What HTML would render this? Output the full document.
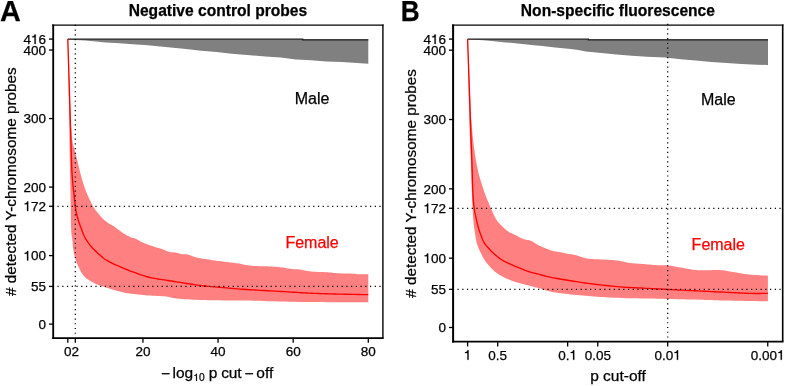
<!DOCTYPE html>
<html><head><meta charset="utf-8"><style>
html,body{margin:0;padding:0;background:#fff;width:785px;height:386px;overflow:hidden}
svg{display:block;will-change:transform}
text{font-family:"Liberation Sans",sans-serif;fill:#000;stroke:#000;stroke-width:0.25px}
text.red{fill:#ff0000;stroke:#ff0000}
</style></head><body>
<svg width="785" height="386" viewBox="0 0 785 386">
<rect width="785" height="386" fill="#fff"/>
<polygon points="67.80,39.00 68.10,39.40 75.20,39.90 85.40,40.60 95.60,41.40 105.80,42.40 116.00,43.00 126.20,43.70 136.40,44.40 145.00,45.00 155.30,46.10 170.60,47.60 185.90,48.90 201.20,50.70 216.50,51.90 231.70,53.80 247.00,55.00 265.30,56.50 280.60,57.50 295.90,59.50 311.20,60.30 326.50,61.50 341.70,62.10 357.00,63.00 368.30,63.70 368.30,39.20 67.80,39.20" fill="#808080"/>
<polygon points="67.80,39.00 67.92,42.17 68.07,46.39 68.25,51.42 68.46,57.00 68.67,62.90 68.89,68.86 69.10,74.64 69.30,80.00 69.49,85.18 69.68,90.54 69.87,95.95 70.06,101.31 70.24,106.51 70.43,111.43 70.62,115.96 70.80,120.00 70.97,123.52 71.13,126.62 71.28,129.36 71.42,131.82 71.58,134.05 71.76,136.11 71.96,138.07 72.20,140.00 72.48,141.80 72.78,143.36 73.12,144.75 73.47,146.02 73.83,147.21 74.19,148.39 74.55,149.60 74.90,150.90 75.23,152.24 75.55,153.54 75.87,154.83 76.19,156.13 76.52,157.45 76.86,158.82 77.22,160.27 77.60,161.80 78.00,163.44 78.41,165.17 78.84,166.97 79.28,168.83 79.74,170.70 80.21,172.59 80.70,174.46 81.20,176.30 81.73,178.14 82.28,180.01 82.84,181.90 83.42,183.79 84.02,185.64 84.61,187.44 85.21,189.17 85.80,190.80 86.40,192.35 87.02,193.85 87.65,195.28 88.28,196.66 88.90,197.98 89.50,199.22 90.07,200.40 90.60,201.50 91.08,202.51 91.52,203.41 91.92,204.24 92.31,205.00 92.68,205.72 93.07,206.41 93.47,207.10 93.90,207.80 94.35,208.49 94.80,209.14 95.27,209.77 95.74,210.38 96.22,210.98 96.73,211.60 97.25,212.23 97.80,212.90 98.37,213.60 98.96,214.34 99.56,215.09 100.19,215.85 100.83,216.61 101.50,217.36 102.19,218.10 102.90,218.80 103.66,219.50 104.49,220.20 105.35,220.91 106.23,221.59 107.09,222.25 107.93,222.86 108.70,223.42 109.40,223.90 110.00,224.29 110.53,224.57 111.00,224.79 111.43,224.98 111.86,225.15 112.29,225.34 112.77,225.58 113.30,225.90 113.88,226.29 114.48,226.73 115.10,227.20 115.74,227.69 116.40,228.21 117.08,228.74 117.78,229.27 118.50,229.80 119.25,230.34 120.04,230.91 120.85,231.50 121.67,232.09 122.51,232.68 123.35,233.25 124.18,233.80 125.00,234.30 125.82,234.78 126.67,235.24 127.52,235.69 128.36,236.11 129.19,236.51 129.98,236.88 130.72,237.21 131.40,237.50 131.99,237.72 132.49,237.87 132.93,237.96 133.34,238.03 133.76,238.10 134.20,238.21 134.71,238.36 135.30,238.60 135.99,238.93 136.74,239.33 137.55,239.78 138.39,240.26 139.25,240.75 140.11,241.23 140.97,241.69 141.80,242.10 142.61,242.47 143.43,242.82 144.24,243.16 145.06,243.48 145.87,243.79 146.68,244.10 147.49,244.40 148.30,244.70 149.10,244.99 149.87,245.28 150.65,245.55 151.42,245.82 152.20,246.09 153.00,246.35 153.83,246.62 154.70,246.90 155.62,247.18 156.58,247.46 157.57,247.74 158.58,248.02 159.59,248.30 160.59,248.59 161.57,248.89 162.50,249.20 163.39,249.53 164.27,249.90 165.12,250.28 165.96,250.66 166.78,251.02 167.59,251.36 168.40,251.66 169.20,251.90 169.99,252.07 170.77,252.17 171.53,252.23 172.29,252.27 173.04,252.29 173.79,252.33 174.54,252.39 175.30,252.50 176.06,252.66 176.83,252.86 177.59,253.08 178.35,253.31 179.11,253.54 179.88,253.76 180.64,253.95 181.40,254.10 182.14,254.19 182.85,254.22 183.55,254.22 184.26,254.21 184.99,254.20 185.76,254.24 186.59,254.33 187.50,254.50 188.50,254.77 189.58,255.12 190.72,255.54 191.91,255.98 193.11,256.44 194.33,256.87 195.53,257.27 196.70,257.60 197.86,257.87 199.04,258.09 200.22,258.29 201.40,258.47 202.57,258.63 203.71,258.78 204.83,258.94 205.90,259.10 206.90,259.26 207.80,259.41 208.67,259.55 209.51,259.69 210.38,259.83 211.31,259.98 212.34,260.13 213.50,260.30 214.81,260.48 216.26,260.68 217.80,260.88 219.40,261.09 221.03,261.30 222.64,261.51 224.21,261.71 225.70,261.90 227.13,262.07 228.54,262.24 229.93,262.39 231.29,262.54 232.64,262.70 233.95,262.85 235.24,263.02 236.50,263.20 237.72,263.40 238.89,263.61 240.03,263.83 241.15,264.06 242.25,264.29 243.36,264.51 244.47,264.71 245.60,264.90 246.72,265.07 247.82,265.24 248.91,265.39 250.01,265.54 251.13,265.67 252.29,265.80 253.51,265.90 254.80,266.00 256.18,266.07 257.62,266.12 259.12,266.14 260.66,266.16 262.23,266.18 263.82,266.20 265.42,266.24 267.00,266.30 268.60,266.38 270.23,266.46 271.89,266.55 273.55,266.66 275.21,266.77 276.84,266.90 278.45,267.04 280.00,267.20 281.52,267.39 283.04,267.62 284.53,267.87 285.99,268.12 287.42,268.38 288.81,268.62 290.13,268.83 291.40,269.00 292.56,269.11 293.62,269.18 294.59,269.22 295.54,269.24 296.48,269.26 297.47,269.30 298.53,269.37 299.70,269.50 300.95,269.69 302.21,269.92 303.52,270.19 304.88,270.47 306.32,270.76 307.86,271.04 309.51,271.29 311.30,271.50 313.34,271.67 315.66,271.80 318.15,271.92 320.71,272.03 323.23,272.12 325.61,272.21 327.73,272.30 329.50,272.40 330.80,272.51 331.69,272.61 332.31,272.72 332.80,272.82 333.29,272.93 333.91,273.02 334.80,273.12 336.10,273.20 337.92,273.28 340.18,273.34 342.73,273.41 345.41,273.46 348.06,273.52 350.53,273.57 352.66,273.63 354.30,273.70 355.37,273.77 356.00,273.86 356.30,273.94 356.42,274.03 356.48,274.11 356.60,274.19 356.94,274.25 357.60,274.30 358.66,274.33 360.01,274.34 361.54,274.34 363.16,274.34 364.75,274.33 366.20,274.31 367.42,274.30 368.30,274.30 368.30,302.20 365.61,302.20 362.10,302.21 357.92,302.22 353.24,302.23 348.23,302.24 343.04,302.24 337.84,302.22 332.80,302.20 327.75,302.17 322.48,302.12 317.04,302.08 311.51,302.02 305.95,301.95 300.41,301.88 294.98,301.79 289.70,301.70 284.49,301.59 279.23,301.45 274.00,301.29 268.83,301.13 263.79,300.97 258.94,300.83 254.32,300.70 250.00,300.60 246.01,300.53 242.31,300.49 238.85,300.47 235.57,300.46 232.43,300.46 229.35,300.45 226.29,300.43 223.20,300.40 220.12,300.36 217.13,300.31 214.21,300.27 211.33,300.22 208.48,300.16 205.64,300.09 202.79,300.00 199.90,299.90 196.90,299.78 193.78,299.65 190.60,299.51 187.46,299.35 184.41,299.18 181.53,299.00 178.90,298.81 176.60,298.60 174.72,298.37 173.24,298.11 172.03,297.83 170.99,297.54 169.98,297.25 168.89,296.97 167.61,296.72 166.00,296.50 164.08,296.32 161.96,296.17 159.70,296.05 157.32,295.94 154.89,295.83 152.45,295.71 150.04,295.57 147.70,295.40 145.38,295.21 143.01,295.00 140.63,294.78 138.25,294.55 135.92,294.31 133.66,294.05 131.51,293.78 129.50,293.50 127.66,293.21 125.98,292.92 124.41,292.63 122.92,292.31 121.45,291.98 119.97,291.62 118.44,291.23 116.80,290.80 115.04,290.32 113.17,289.78 111.26,289.21 109.32,288.61 107.42,288.01 105.59,287.41 103.87,286.84 102.30,286.30 100.90,285.82 99.65,285.38 98.49,284.97 97.41,284.56 96.38,284.14 95.35,283.69 94.30,283.18 93.20,282.60 92.04,281.96 90.84,281.27 89.62,280.55 88.42,279.79 87.24,278.98 86.11,278.13 85.06,277.24 84.10,276.30 83.24,275.30 82.45,274.22 81.72,273.09 81.06,271.93 80.43,270.74 79.84,269.54 79.26,268.36 78.70,267.20 78.15,266.06 77.63,264.92 77.14,263.78 76.67,262.64 76.24,261.51 75.83,260.37 75.45,259.23 75.10,258.10 74.78,256.97 74.50,255.85 74.25,254.72 74.03,253.60 73.83,252.48 73.64,251.35 73.47,250.23 73.30,249.10 73.15,247.97 73.02,246.85 72.91,245.73 72.81,244.61 72.72,243.48 72.63,242.34 72.52,241.18 72.40,240.00 72.26,238.93 72.11,238.03 71.95,237.19 71.78,236.31 71.62,235.25 71.46,233.93 71.32,232.21 71.20,230.00 71.10,227.28 71.01,224.14 70.94,220.65 70.87,216.88 70.81,212.86 70.75,208.67 70.68,204.37 70.60,200.00 70.51,195.55 70.41,190.94 70.31,186.17 70.21,181.25 70.11,176.17 70.00,170.94 69.90,165.55 69.80,160.00 69.70,154.37 69.61,148.70 69.52,142.91 69.43,136.94 69.33,130.73 69.23,124.21 69.12,117.32 69.00,110.00 68.86,101.64 68.70,92.06 68.53,81.79 68.35,71.38 68.18,61.35 68.03,52.25 67.90,44.62 67.80,39.00" fill="#ff8080"/>
<polyline points="67.8,39.2 302.7,39.2 302.7,39.800000000000004 368.3,39.800000000000004" fill="none" stroke="#1e1e1e" stroke-width="1.3"/>
<polyline points="67.80,39.00 68.01,45.67 68.29,54.98 68.64,66.12 69.01,78.25 69.39,90.53 69.75,102.14 70.06,112.24 70.30,120.00 70.47,125.42 70.58,129.29 70.66,131.97 70.72,133.81 70.76,135.18 70.79,136.43 70.84,137.92 70.90,140.00 70.97,142.53 71.05,145.09 71.12,147.66 71.19,150.23 71.27,152.77 71.34,155.26 71.42,157.68 71.50,160.00 71.58,162.20 71.64,164.29 71.71,166.30 71.78,168.27 71.85,170.22 71.95,172.19 72.06,174.20 72.20,176.30 72.37,178.49 72.57,180.76 72.79,183.07 73.03,185.39 73.28,187.72 73.52,190.01 73.77,192.24 74.00,194.40 74.22,196.51 74.43,198.60 74.64,200.66 74.85,202.68 75.07,204.64 75.29,206.52 75.54,208.32 75.80,210.00 76.08,211.56 76.38,213.00 76.69,214.34 77.01,215.61 77.35,216.83 77.69,218.02 78.04,219.20 78.40,220.40 78.77,221.60 79.16,222.78 79.56,223.93 79.96,225.06 80.37,226.17 80.79,227.27 81.20,228.34 81.60,229.40 81.99,230.44 82.37,231.45 82.74,232.44 83.11,233.42 83.50,234.38 83.90,235.33 84.33,236.27 84.80,237.20 85.30,238.13 85.82,239.04 86.37,239.94 86.94,240.83 87.53,241.71 88.13,242.58 88.76,243.45 89.40,244.30 90.06,245.15 90.75,245.98 91.46,246.81 92.18,247.63 92.92,248.44 93.67,249.24 94.43,250.03 95.20,250.80 95.99,251.57 96.82,252.36 97.67,253.13 98.53,253.89 99.38,254.63 100.20,255.34 100.98,255.99 101.70,256.60 102.32,257.13 102.82,257.57 103.27,257.96 103.69,258.33 104.15,258.68 104.69,259.07 105.36,259.50 106.20,260.00 107.18,260.57 108.24,261.16 109.39,261.80 110.64,262.46 112.00,263.15 113.47,263.87 115.07,264.62 116.80,265.40 118.73,266.24 120.89,267.15 123.21,268.11 125.62,269.09 128.08,270.06 130.50,271.01 132.83,271.89 135.00,272.70 137.02,273.43 138.95,274.12 140.82,274.78 142.64,275.39 144.44,275.96 146.25,276.51 148.10,277.02 150.00,277.50 151.97,277.94 153.98,278.33 156.01,278.69 158.06,279.01 160.10,279.32 162.12,279.61 164.09,279.90 166.00,280.20 167.81,280.49 169.50,280.77 171.14,281.03 172.76,281.28 174.41,281.54 176.13,281.81 177.98,282.09 180.00,282.40 182.18,282.74 184.48,283.11 186.88,283.50 189.37,283.89 191.93,284.29 194.55,284.68 197.21,285.05 199.90,285.40 202.65,285.72 205.49,286.04 208.39,286.34 211.34,286.62 214.31,286.90 217.30,287.18 220.26,287.44 223.20,287.70 226.08,287.95 228.91,288.19 231.72,288.42 234.54,288.64 237.40,288.86 240.32,289.08 243.35,289.29 246.50,289.50 249.82,289.71 253.30,289.92 256.90,290.12 260.55,290.32 264.22,290.52 267.85,290.71 271.39,290.91 274.80,291.10 278.13,291.30 281.46,291.50 284.76,291.70 287.99,291.90 291.13,292.09 294.15,292.28 297.01,292.45 299.70,292.60 302.13,292.73 304.30,292.85 306.28,292.96 308.16,293.05 310.01,293.14 311.91,293.22 313.95,293.31 316.20,293.40 318.60,293.49 321.03,293.58 323.54,293.67 326.13,293.76 328.82,293.85 331.65,293.93 334.64,294.02 337.80,294.10 341.40,294.18 345.51,294.27 349.93,294.36 354.40,294.44 358.71,294.52 362.61,294.59 365.89,294.65 368.30,294.70" fill="none" stroke="#ff0000" stroke-width="1.35" stroke-linejoin="round"/>
<line x1="75.31" y1="24.865" x2="75.31" y2="337.15" stroke="#000" stroke-width="1.25" stroke-dasharray="1.2 3.535"/>
<line x1="52.765" y1="206.26" x2="381.85" y2="206.26" stroke="#000" stroke-width="1.25" stroke-dasharray="1.2 3.535"/>
<line x1="52.765" y1="286.42" x2="381.85" y2="286.42" stroke="#000" stroke-width="1.25" stroke-dasharray="1.2 3.535"/>
<line x1="52" y1="25.2" x2="383.59999999999997" y2="25.2" stroke="#000" stroke-width="1.2"/>
<line x1="382.9" y1="24.6" x2="382.9" y2="338.15" stroke="#000" stroke-width="1.4"/>
<line x1="53.2" y1="24.6" x2="53.2" y2="339.09999999999997" stroke="#000" stroke-width="1.85"/>
<line x1="52.275000000000006" y1="338.15" x2="383.59999999999997" y2="338.15" stroke="#000" stroke-width="1.9"/>
<line x1="49" y1="324.10" x2="53" y2="324.10" stroke="#000" stroke-width="1.3"/>
<text x="46" y="328.95" text-anchor="end" font-size="13.5">0</text>
<line x1="49" y1="286.42" x2="53" y2="286.42" stroke="#000" stroke-width="1.3"/>
<text x="46" y="291.27" text-anchor="end" font-size="13.5">55</text>
<line x1="49" y1="255.59" x2="53" y2="255.59" stroke="#000" stroke-width="1.3"/>
<text x="46" y="260.44" text-anchor="end" font-size="13.5"> 00</text>
<line x1="49" y1="206.26" x2="53" y2="206.26" stroke="#000" stroke-width="1.3"/>
<text x="46" y="211.11" text-anchor="end" font-size="13.5"> 72</text>
<line x1="49" y1="187.08" x2="53" y2="187.08" stroke="#000" stroke-width="1.3"/>
<text x="46" y="191.93" text-anchor="end" font-size="13.5">200</text>
<line x1="49" y1="118.57" x2="53" y2="118.57" stroke="#000" stroke-width="1.3"/>
<text x="46" y="123.42" text-anchor="end" font-size="13.5">300</text>
<line x1="49" y1="50.06" x2="53" y2="50.06" stroke="#000" stroke-width="1.3"/>
<text x="46" y="54.91" text-anchor="end" font-size="13.5">400</text>
<line x1="49" y1="39.10" x2="53" y2="39.10" stroke="#000" stroke-width="1.3"/>
<text x="46" y="43.95" text-anchor="end" font-size="13.5">4 6</text>
<line x1="67.80" y1="338.15" x2="67.80" y2="342.84999999999997" stroke="#000" stroke-width="1.3"/>
<line x1="75.31" y1="338.15" x2="75.31" y2="342.84999999999997" stroke="#000" stroke-width="1.3"/>
<line x1="142.93" y1="338.15" x2="142.93" y2="342.84999999999997" stroke="#000" stroke-width="1.3"/>
<line x1="218.05" y1="338.15" x2="218.05" y2="342.84999999999997" stroke="#000" stroke-width="1.3"/>
<line x1="293.18" y1="338.15" x2="293.18" y2="342.84999999999997" stroke="#000" stroke-width="1.3"/>
<line x1="368.30" y1="338.15" x2="368.30" y2="342.84999999999997" stroke="#000" stroke-width="1.3"/>
<text x="67.80" y="356.25" text-anchor="middle" font-size="13.5">0</text>
<text x="75.31" y="356.25" text-anchor="middle" font-size="13.5">2</text>
<text x="142.93" y="356.25" text-anchor="middle" font-size="13.5">20</text>
<text x="218.05" y="356.25" text-anchor="middle" font-size="13.5">40</text>
<text x="293.18" y="356.25" text-anchor="middle" font-size="13.5">60</text>
<text x="368.30" y="356.25" text-anchor="middle" font-size="13.5">80</text>
<text x="217.2" y="378.3" text-anchor="middle" font-size="15.5"><tspan dy="0.6">−</tspan><tspan dy="-0.6" dx="2.4">log</tspan><tspan font-size="10.2" dy="2.6" dx="0.1"> 0</tspan><tspan dy="-2.6" dx="0" letter-spacing="-0.2"> p cut</tspan><tspan dy="0.5" dx="3.2">−</tspan><tspan dy="-0.5" dx="2.7">off</tspan></text>
<text transform="translate(15.6,181.65) rotate(-90)" text-anchor="middle" font-size="15.3"># detected Y-chromosome probes</text>
<text x="0.1" y="20.9" font-size="28.8" font-weight="bold">A</text>
<text x="217.93" y="15.8" text-anchor="middle" font-size="15.6" font-weight="bold">Negative control probes</text>
<text x="312.1" y="103.8" text-anchor="middle" font-size="16">Male</text>
<text x="312.1" y="247.9" text-anchor="middle" font-size="16" class="red">Female</text>
<polygon points="467.60,39.00 468.10,39.60 483.30,40.30 491.50,41.10 505.80,42.40 520.00,43.70 536.40,45.40 540.00,45.80 555.30,47.60 570.60,48.90 578.20,49.90 585.90,51.50 601.20,53.00 616.50,54.50 631.70,55.70 647.00,56.80 665.30,57.60 680.60,59.20 695.90,60.40 711.20,61.90 726.50,63.00 741.70,64.10 757.00,64.70 768.00,65.00 768.00,39.20 467.60,39.20" fill="#808080"/>
<polygon points="467.60,39.00 467.75,42.17 467.94,46.39 468.18,51.42 468.44,57.00 468.71,62.90 468.99,68.86 469.25,74.64 469.50,80.00 469.72,85.11 469.92,90.28 470.12,95.47 470.32,100.62 470.53,105.70 470.75,110.66 471.01,115.44 471.30,120.00 471.63,124.39 472.00,128.66 472.39,132.81 472.80,136.81 473.22,140.65 473.65,144.30 474.08,147.76 474.50,151.00 474.92,154.01 475.35,156.79 475.79,159.37 476.22,161.77 476.66,164.01 477.09,166.11 477.50,168.10 477.90,170.00 478.27,171.71 478.60,173.17 478.91,174.46 479.22,175.64 479.54,176.79 479.88,177.97 480.26,179.25 480.70,180.70 481.19,182.32 481.72,184.05 482.29,185.85 482.88,187.69 483.50,189.56 484.12,191.42 484.76,193.24 485.40,195.00 486.05,196.72 486.74,198.45 487.44,200.17 488.15,201.86 488.86,203.53 489.56,205.14 490.25,206.71 490.90,208.20 491.53,209.64 492.14,211.04 492.73,212.40 493.32,213.71 493.89,214.96 494.46,216.15 495.03,217.26 495.60,218.30 496.14,219.22 496.64,220.02 497.12,220.73 497.61,221.39 498.11,222.02 498.67,222.66 499.29,223.34 500.00,224.10 500.81,224.95 501.71,225.86 502.68,226.81 503.69,227.77 504.73,228.71 505.78,229.62 506.81,230.46 507.80,231.20 508.77,231.84 509.73,232.40 510.69,232.90 511.65,233.35 512.61,233.78 513.57,234.20 514.53,234.63 515.50,235.10 516.47,235.60 517.44,236.12 518.42,236.65 519.39,237.18 520.37,237.68 521.35,238.17 522.32,238.61 523.30,239.00 524.28,239.32 525.25,239.55 526.23,239.74 527.21,239.91 528.18,240.08 529.16,240.29 530.13,240.55 531.10,240.90 532.03,241.33 532.91,241.83 533.76,242.37 534.62,242.94 535.53,243.55 536.50,244.16 537.58,244.79 538.80,245.40 540.22,246.04 541.83,246.74 543.57,247.47 545.38,248.20 547.17,248.90 548.88,249.56 550.45,250.13 551.80,250.60 552.91,250.95 553.82,251.19 554.60,251.35 555.30,251.46 555.97,251.54 556.65,251.62 557.41,251.74 558.30,251.90 559.31,252.11 560.40,252.35 561.55,252.60 562.72,252.86 563.91,253.12 565.08,253.37 566.22,253.60 567.30,253.80 568.29,253.96 569.21,254.07 570.08,254.16 570.95,254.24 571.84,254.34 572.79,254.47 573.83,254.65 575.00,254.90 576.29,255.25 577.66,255.69 579.11,256.18 580.63,256.71 582.20,257.23 583.83,257.72 585.50,258.16 587.20,258.50 588.96,258.75 590.81,258.93 592.71,259.06 594.66,259.16 596.63,259.23 598.60,259.30 600.57,259.39 602.50,259.50 604.43,259.62 606.40,259.74 608.37,259.85 610.34,259.96 612.29,260.09 614.19,260.23 616.04,260.40 617.80,260.60 619.46,260.85 621.03,261.14 622.53,261.46 623.99,261.80 625.44,262.14 626.91,262.46 628.42,262.75 630.00,263.00 631.64,263.20 633.30,263.36 634.99,263.50 636.71,263.62 638.44,263.74 640.21,263.85 641.99,263.97 643.80,264.10 645.69,264.25 647.70,264.42 649.77,264.60 651.84,264.77 653.86,264.93 655.78,265.08 657.55,265.21 659.10,265.30 660.39,265.34 661.43,265.34 662.31,265.30 663.09,265.26 663.84,265.21 664.65,265.19 665.58,265.22 666.70,265.30 668.01,265.44 669.44,265.63 670.96,265.86 672.55,266.11 674.17,266.37 675.81,266.65 677.43,266.93 679.00,267.20 680.57,267.48 682.19,267.78 683.82,268.10 685.45,268.43 687.05,268.74 688.59,269.03 690.05,269.29 691.40,269.50 692.54,269.67 693.45,269.80 694.23,269.91 694.98,269.99 695.80,270.06 696.79,270.11 698.06,270.16 699.70,270.20 701.82,270.22 704.38,270.21 707.23,270.17 710.24,270.13 713.28,270.10 716.21,270.09 718.90,270.12 721.20,270.20 723.09,270.33 724.68,270.51 726.06,270.71 727.31,270.94 728.52,271.19 729.78,271.46 731.18,271.73 732.80,272.00 734.62,272.29 736.55,272.61 738.58,272.94 740.67,273.29 742.82,273.63 745.00,273.95 747.20,274.24 749.40,274.50 751.75,274.72 754.33,274.92 757.01,275.10 759.69,275.26 762.23,275.40 764.53,275.51 766.46,275.62 767.90,275.70 767.90,301.30 764.42,301.24 759.67,301.16 753.99,301.06 747.75,300.95 741.32,300.84 735.06,300.72 729.33,300.61 724.50,300.50 720.57,300.40 717.19,300.30 714.20,300.20 711.46,300.10 708.79,300.00 706.05,299.90 703.07,299.80 699.70,299.70 695.85,299.60 691.62,299.49 687.17,299.38 682.64,299.27 678.17,299.17 673.91,299.07 670.00,298.98 666.60,298.90 663.81,298.83 661.53,298.77 659.61,298.72 657.91,298.67 656.25,298.63 654.48,298.59 652.45,298.55 650.00,298.50 647.11,298.46 643.94,298.42 640.54,298.39 637.02,298.35 633.44,298.31 629.89,298.26 626.45,298.19 623.20,298.10 620.12,297.99 617.13,297.87 614.21,297.74 611.33,297.59 608.48,297.44 605.64,297.27 602.79,297.09 599.90,296.90 596.99,296.70 594.08,296.50 591.16,296.28 588.25,296.05 585.34,295.81 582.43,295.55 579.51,295.29 576.60,295.00 573.62,294.70 570.54,294.38 567.42,294.06 564.32,293.71 561.31,293.36 558.42,292.98 555.73,292.60 553.30,292.20 551.16,291.78 549.28,291.34 547.60,290.87 546.05,290.40 544.58,289.92 543.12,289.44 541.61,288.96 540.00,288.50 538.31,288.05 536.62,287.60 534.93,287.16 533.22,286.72 531.51,286.28 529.79,285.83 528.05,285.37 526.30,284.90 524.53,284.43 522.73,283.99 520.92,283.54 519.10,283.08 517.27,282.59 515.44,282.06 513.62,281.47 511.80,280.80 509.96,280.06 508.08,279.27 506.18,278.43 504.29,277.54 502.44,276.60 500.64,275.61 498.92,274.58 497.30,273.50 495.78,272.36 494.31,271.14 492.92,269.86 491.58,268.54 490.31,267.20 489.11,265.85 487.97,264.51 486.90,263.20 485.91,261.90 485.01,260.61 484.18,259.31 483.41,258.01 482.69,256.70 482.00,255.40 481.35,254.10 480.70,252.80 480.07,251.51 479.48,250.25 478.92,248.99 478.39,247.73 477.90,246.45 477.44,245.14 477.00,243.80 476.60,242.40 476.23,240.91 475.91,239.33 475.62,237.69 475.36,236.04 475.12,234.40 474.90,232.82 474.70,231.34 474.50,230.00 474.32,228.89 474.18,228.03 474.06,227.30 473.95,226.62 473.85,225.87 473.75,224.95 473.63,223.76 473.50,222.20 473.35,220.37 473.20,218.42 473.04,216.30 472.88,213.96 472.71,211.35 472.54,208.44 472.37,205.17 472.20,201.50 472.03,197.30 471.86,192.55 471.69,187.40 471.51,181.96 471.34,176.37 471.16,170.76 470.98,165.26 470.80,160.00 470.62,155.21 470.44,150.86 470.25,146.69 470.07,142.47 469.88,137.94 469.69,132.85 469.50,126.95 469.30,120.00 469.09,111.28 468.85,100.73 468.60,89.07 468.36,77.00 468.12,65.24 467.91,54.52 467.73,45.53 467.60,39.00" fill="#ff8080"/>
<polyline points="467.6,39.2 588.4,39.2 588.4,39.800000000000004 768.0,39.800000000000004" fill="none" stroke="#1e1e1e" stroke-width="1.3"/>
<polyline points="467.60,39.00 467.82,45.50 468.13,54.40 468.50,65.02 468.90,76.69 469.31,88.70 469.72,100.38 470.09,111.04 470.40,120.00 470.66,127.48 470.90,134.23 471.12,140.35 471.32,145.94 471.51,151.10 471.68,155.93 471.85,160.53 472.00,165.00 472.13,169.22 472.24,173.05 472.34,176.55 472.42,179.77 472.50,182.77 472.58,185.60 472.68,188.32 472.80,191.00 472.93,193.56 473.06,195.93 473.20,198.14 473.35,200.21 473.51,202.17 473.69,204.05 473.88,205.89 474.10,207.70 474.35,209.48 474.63,211.19 474.94,212.83 475.26,214.41 475.59,215.91 475.91,217.34 476.22,218.71 476.50,220.00 476.76,221.19 476.99,222.27 477.22,223.26 477.44,224.19 477.66,225.08 477.89,225.96 478.13,226.86 478.40,227.80 478.69,228.77 478.99,229.74 479.30,230.72 479.62,231.69 479.95,232.65 480.29,233.61 480.64,234.56 481.00,235.50 481.36,236.43 481.73,237.37 482.09,238.30 482.47,239.22 482.87,240.12 483.29,241.01 483.73,241.87 484.20,242.70 484.70,243.49 485.22,244.25 485.77,244.98 486.34,245.69 486.93,246.39 487.53,247.08 488.16,247.78 488.80,248.50 489.45,249.22 490.12,249.95 490.80,250.67 491.50,251.39 492.23,252.12 492.98,252.84 493.77,253.57 494.60,254.30 495.47,255.04 496.38,255.80 497.32,256.57 498.29,257.33 499.29,258.09 500.31,258.82 501.35,259.53 502.40,260.20 503.48,260.84 504.60,261.45 505.74,262.03 506.91,262.60 508.07,263.15 509.24,263.68 510.38,264.19 511.50,264.70 512.59,265.19 513.67,265.65 514.74,266.09 515.79,266.52 516.85,266.95 517.90,267.36 518.95,267.78 520.00,268.20 521.03,268.62 522.03,269.04 523.02,269.46 524.01,269.88 525.02,270.29 526.08,270.69 527.20,271.10 528.40,271.50 529.69,271.90 531.04,272.29 532.44,272.67 533.89,273.06 535.38,273.44 536.91,273.82 538.45,274.21 540.00,274.60 541.51,274.99 542.97,275.38 544.42,275.76 545.92,276.15 547.51,276.54 549.23,276.95 551.15,277.37 553.30,277.80 555.73,278.26 558.42,278.74 561.31,279.25 564.32,279.76 567.42,280.27 570.54,280.76 573.62,281.25 576.60,281.70 579.51,282.13 582.43,282.55 585.34,282.96 588.25,283.35 591.16,283.73 594.08,284.10 596.99,284.46 599.90,284.80 602.81,285.13 605.73,285.46 608.64,285.77 611.55,286.07 614.46,286.35 617.38,286.62 620.29,286.87 623.20,287.10 626.13,287.30 629.10,287.48 632.08,287.63 635.05,287.78 638.00,287.91 640.90,288.03 643.74,288.16 646.50,288.30 649.19,288.44 651.83,288.59 654.43,288.73 656.98,288.88 659.47,289.01 661.90,289.15 664.28,289.28 666.60,289.40 668.78,289.51 670.78,289.61 672.68,289.70 674.55,289.79 676.46,289.88 678.47,289.98 680.66,290.08 683.10,290.20 685.81,290.33 688.74,290.47 691.83,290.62 695.03,290.77 698.30,290.93 701.59,291.09 704.83,291.25 708.00,291.40 711.16,291.55 714.40,291.71 717.67,291.87 720.92,292.02 724.10,292.18 727.18,292.33 730.09,292.47 732.80,292.60 735.25,292.72 737.48,292.85 739.54,292.96 741.49,293.08 743.40,293.18 745.31,293.27 747.29,293.34 749.40,293.40 751.75,293.44 754.33,293.46 757.01,293.46 759.69,293.45 762.23,293.44 764.53,293.42 766.46,293.41 767.90,293.40" fill="none" stroke="#ff0000" stroke-width="1.35" stroke-linejoin="round"/>
<line x1="667.70" y1="23.865" x2="667.70" y2="340.72" stroke="#000" stroke-width="1.25" stroke-dasharray="1.2 3.535"/>
<line x1="452.765" y1="208.26" x2="781.85" y2="208.26" stroke="#000" stroke-width="1.25" stroke-dasharray="1.2 3.535"/>
<line x1="452.765" y1="289.37" x2="781.85" y2="289.37" stroke="#000" stroke-width="1.25" stroke-dasharray="1.2 3.535"/>
<line x1="452" y1="25.2" x2="783.5" y2="25.2" stroke="#000" stroke-width="1.2"/>
<line x1="782.7" y1="24.6" x2="782.7" y2="341.72" stroke="#000" stroke-width="1.6"/>
<line x1="453.1" y1="24.6" x2="453.1" y2="342.62" stroke="#000" stroke-width="2.0"/>
<line x1="452.1" y1="341.72" x2="783.5" y2="341.72" stroke="#000" stroke-width="1.8"/>
<line x1="449" y1="327.50" x2="453" y2="327.50" stroke="#000" stroke-width="1.3"/>
<text x="446" y="332.35" text-anchor="end" font-size="13.5">0</text>
<line x1="449" y1="289.37" x2="453" y2="289.37" stroke="#000" stroke-width="1.3"/>
<text x="446" y="294.22" text-anchor="end" font-size="13.5">55</text>
<line x1="449" y1="258.17" x2="453" y2="258.17" stroke="#000" stroke-width="1.3"/>
<text x="446" y="263.02" text-anchor="end" font-size="13.5"> 00</text>
<line x1="449" y1="208.26" x2="453" y2="208.26" stroke="#000" stroke-width="1.3"/>
<text x="446" y="213.11" text-anchor="end" font-size="13.5"> 72</text>
<line x1="449" y1="188.85" x2="453" y2="188.85" stroke="#000" stroke-width="1.3"/>
<text x="446" y="193.70" text-anchor="end" font-size="13.5">200</text>
<line x1="449" y1="119.52" x2="453" y2="119.52" stroke="#000" stroke-width="1.3"/>
<text x="446" y="124.37" text-anchor="end" font-size="13.5">300</text>
<line x1="449" y1="50.19" x2="453" y2="50.19" stroke="#000" stroke-width="1.3"/>
<text x="446" y="55.04" text-anchor="end" font-size="13.5">400</text>
<line x1="449" y1="39.10" x2="453" y2="39.10" stroke="#000" stroke-width="1.3"/>
<text x="446" y="43.95" text-anchor="end" font-size="13.5">4 6</text>
<line x1="467.60" y1="341.72" x2="467.60" y2="346.42" stroke="#000" stroke-width="1.3"/>
<line x1="497.72" y1="341.72" x2="497.72" y2="346.42" stroke="#000" stroke-width="1.3"/>
<line x1="567.65" y1="341.72" x2="567.65" y2="346.42" stroke="#000" stroke-width="1.3"/>
<line x1="597.77" y1="341.72" x2="597.77" y2="346.42" stroke="#000" stroke-width="1.3"/>
<line x1="667.70" y1="341.72" x2="667.70" y2="346.42" stroke="#000" stroke-width="1.3"/>
<line x1="767.75" y1="341.72" x2="767.75" y2="346.42" stroke="#000" stroke-width="1.3"/>
<text x="467.60" y="359.82" text-anchor="middle" font-size="13.5"> </text>
<text x="497.72" y="359.82" text-anchor="middle" font-size="13.5">0.5</text>
<text x="567.65" y="359.82" text-anchor="middle" font-size="13.5">0. </text>
<text x="597.77" y="359.82" text-anchor="middle" font-size="13.5">0.05</text>
<text x="667.70" y="359.82" text-anchor="middle" font-size="13.5">0.0 </text>
<text x="767.75" y="359.82" text-anchor="middle" font-size="13.5">0.00 </text>
<text x="618" y="381.2" text-anchor="middle" font-size="15.5">p cut-off</text>
<text transform="translate(415.6,183.44) rotate(-90)" text-anchor="middle" font-size="15.3"># detected Y-chromosome probes</text>
<text x="400.70000000000005" y="20.9" font-size="28.8" font-weight="bold" textLength="18.9" lengthAdjust="spacingAndGlyphs">B</text>
<text x="617.92" y="15.8" text-anchor="middle" font-size="15.6" font-weight="bold">Non-specific fluorescence</text>
<text x="718.3" y="104.5" text-anchor="middle" font-size="16">Male</text>
<text x="718.3" y="250" text-anchor="middle" font-size="16" class="red">Female</text>
<g fill="#000" stroke="#000" stroke-width="0.018"><path transform="translate(23.47,260.44) scale(13.50,-13.50)" d="M0.352,0 L0.262,0 L0.262,0.500 L0.085,0.500 L0.085,0.560 C0.195,0.566 0.252,0.610 0.272,0.705 L0.352,0.705 Z"/><path transform="translate(23.47,211.11) scale(13.50,-13.50)" d="M0.352,0 L0.262,0 L0.262,0.500 L0.085,0.500 L0.085,0.560 C0.195,0.566 0.252,0.610 0.272,0.705 L0.352,0.705 Z"/><path transform="translate(30.97,43.95) scale(13.50,-13.50)" d="M0.352,0 L0.262,0 L0.262,0.500 L0.085,0.500 L0.085,0.560 C0.195,0.566 0.252,0.610 0.272,0.705 L0.352,0.705 Z"/><path transform="translate(193.34,380.90) scale(10.20,-10.20)" d="M0.352,0 L0.262,0 L0.262,0.500 L0.085,0.500 L0.085,0.560 C0.195,0.566 0.252,0.610 0.272,0.705 L0.352,0.705 Z"/><path transform="translate(423.47,263.02) scale(13.50,-13.50)" d="M0.352,0 L0.262,0 L0.262,0.500 L0.085,0.500 L0.085,0.560 C0.195,0.566 0.252,0.610 0.272,0.705 L0.352,0.705 Z"/><path transform="translate(423.47,213.11) scale(13.50,-13.50)" d="M0.352,0 L0.262,0 L0.262,0.500 L0.085,0.500 L0.085,0.560 C0.195,0.566 0.252,0.610 0.272,0.705 L0.352,0.705 Z"/><path transform="translate(430.97,43.95) scale(13.50,-13.50)" d="M0.352,0 L0.262,0 L0.262,0.500 L0.085,0.500 L0.085,0.560 C0.195,0.566 0.252,0.610 0.272,0.705 L0.352,0.705 Z"/><path transform="translate(463.84,359.82) scale(13.50,-13.50)" d="M0.352,0 L0.262,0 L0.262,0.500 L0.085,0.500 L0.085,0.560 C0.195,0.566 0.252,0.610 0.272,0.705 L0.352,0.705 Z"/><path transform="translate(569.51,359.82) scale(13.50,-13.50)" d="M0.352,0 L0.262,0 L0.262,0.500 L0.085,0.500 L0.085,0.560 C0.195,0.566 0.252,0.610 0.272,0.705 L0.352,0.705 Z"/><path transform="translate(673.33,359.82) scale(13.50,-13.50)" d="M0.352,0 L0.262,0 L0.262,0.500 L0.085,0.500 L0.085,0.560 C0.195,0.566 0.252,0.610 0.272,0.705 L0.352,0.705 Z"/><path transform="translate(777.12,359.82) scale(13.50,-13.50)" d="M0.352,0 L0.262,0 L0.262,0.500 L0.085,0.500 L0.085,0.560 C0.195,0.566 0.252,0.610 0.272,0.705 L0.352,0.705 Z"/></g>
</svg>
</body></html>
